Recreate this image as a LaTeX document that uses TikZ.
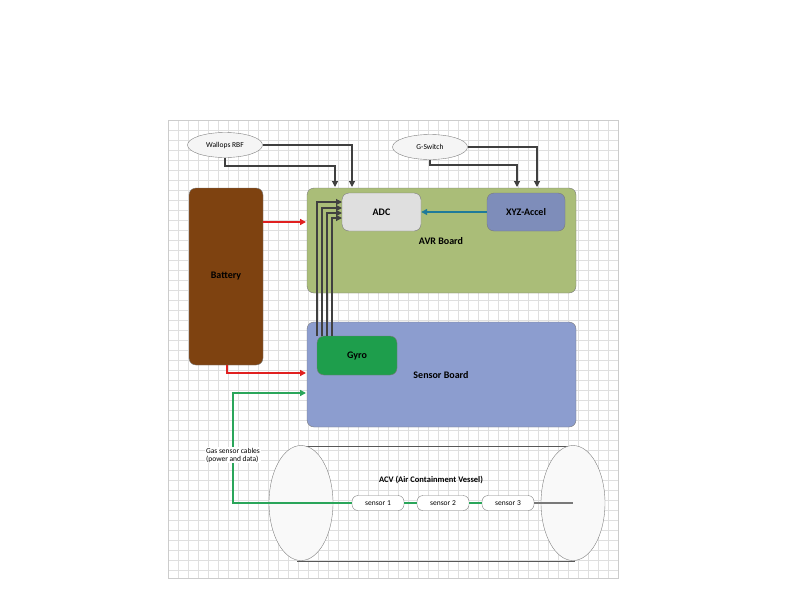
\documentclass[tikz,border=0pt]{standalone}
\usepackage{fontspec}
\setmainfont{Carlito}
\usetikzlibrary{positioning,arrows.meta,shapes.geometric}
\definecolor{batbrown}{HTML}{7E4210}
\definecolor{avrgreen}{HTML}{AABD78}
\definecolor{boardblue}{HTML}{8C9DCF}
\definecolor{gyrogreen}{HTML}{1E9E4C}
\definecolor{wire}{HTML}{404040}
\definecolor{cable}{HTML}{2AA55A}
\definecolor{power}{HTML}{E02020}
\definecolor{busblue}{HTML}{1F7A9A}
\tikzset{
>={Triangle[length=6pt,width=6pt]},
board/.style={draw=wire!70, rounded corners=7pt, thin},
part/.style={draw=wire!70, rounded corners=7pt, thin, font=\bfseries\fontsize{10}{11}\selectfont},
cloud/.style={ellipse, draw=gray, fill=gray!8, minimum width=75pt, minimum height=25pt, font=\fontsize{7.5}{8}\selectfont},
sensor/.style={draw=gray, fill=white, rounded corners=6pt, minimum width=52pt, minimum height=15pt, font=\fontsize{7.5}{8}\selectfont},
sig/.style={->, color=wire, line width=1.1pt},
feed/.style={->, line width=1.4pt},
}
\begin{document}
\begin{tikzpicture}[x=1pt,y=-1pt]
        \useasboundingbox (0,0) rectangle (800,600);
        % grid
        \foreach \gx in {168,178,...,618} \draw[gray!25, very thin] (\gx,120) -- (\gx,578);
        \foreach \gy in {120,130,...,578} \draw[gray!25, very thin] (168,\gy) -- (618,\gy);
        \draw[gray!40, thin] (168,120) rectangle (618,578);

        % boards and parts
        \node[board, fill=batbrown, minimum width=74pt, minimum height=177pt, font=\bfseries\fontsize{10}{11}\selectfont] (bat) at (226,276.5) {Battery};
        \node[board, fill=avrgreen, minimum width=269pt, minimum height=105pt] (avr) at (441.5,240.5) {};
        \node[font=\bfseries\fontsize{10}{11}\selectfont] (avrl) at (441,241) {AVR Board};
        \node[board, fill=boardblue, minimum width=269pt, minimum height=105pt] (sb) at (441.5,374.5) {};
        \node[font=\bfseries\fontsize{10}{11}\selectfont] (sbl) at (441,375) {Sensor Board};
        \node[part, fill=gray!25, minimum width=79pt, minimum height=38pt] (adc) at (381.5,212) {ADC};
        \node[part, fill=boardblue!90!black, minimum width=78pt, minimum height=38pt] (acc) at (526,212) {XYZ-Accel};
        \node[part, fill=gyrogreen, minimum width=80pt, minimum height=39pt] (gyro) at (357,355.5) {Gyro};

        % inputs
        \node[cloud] (rbf) at (225,145) {Wallops RBF};
        \node[cloud] (gsw) at (430,147) {G-Switch};
        \coordinate (rbf1) at (352,187);
        \coordinate (rbf2) at (335,187);
        \coordinate (gsw1) at (537,187);
        \coordinate (gsw2) at (517,187);
        \draw[sig] (rbf.east) -| (rbf1);
        \draw[sig] (rbf.south) |- (335,166) -- (rbf2);
        \draw[sig] (gsw.east) -| (gsw1);
        \draw[sig] (gsw.south) |- (517,165) -- (gsw2);
        \draw[feed, color=busblue] (acc.west) -- (adc.east);

        % gyro to adc
        \foreach \i/\yy in {0/202,1/208,2/213,3/218}
            \draw[sig] (317+5*\i,336) |- (342,\yy);

        % power
        \coordinate (pw1) at (306,222);
        \coordinate (pw2) at (306,373);
        \draw[feed, color=power] (bat.east |- pw1) -- (pw1);
        \draw[feed, color=power] (227,365) |- (pw2);

        % vessel
        \draw[gray!70!black, thin] (297,446) -- (575,446);
        \draw[gray!70!black, thin] (297,561) -- (575,561);
        \node[ellipse, draw=gray, fill=gray!5, minimum width=64pt, minimum height=115pt] (capl) at (301,503) {};
        \node[ellipse, draw=gray, fill=gray!5, minimum width=64pt, minimum height=115pt] (capr) at (573,503) {};
        \node[font=\bfseries\fontsize{8.5}{9}\selectfont] (acv) at (431,480) {ACV (Air Containment Vessel)};
        \node[sensor] (s1) at (378,503) {sensor 1};
        \node[sensor] (s2) at (443,503) {sensor 2};
        \node[sensor] (s3) at (508,503) {sensor 3};
        \draw[color=cable, line width=1.8pt] (s1) -- (s2);
        \draw[color=cable, line width=1.8pt] (s2) -- (s3);
        \draw[color=wire!70, line width=1.1pt] (s3) -- (capr.center);
        \coordinate (gas) at (306,393);
        \draw[feed, color=cable] (s1.west) -| (233,393) -- (gas);
        \node[fill=white, inner sep=1pt, align=left, font=\fontsize{7.5}{8}\selectfont] (gasl) at (233,455) {Gas sensor cables\\(power and data)};
\end{tikzpicture}
\end{document}
